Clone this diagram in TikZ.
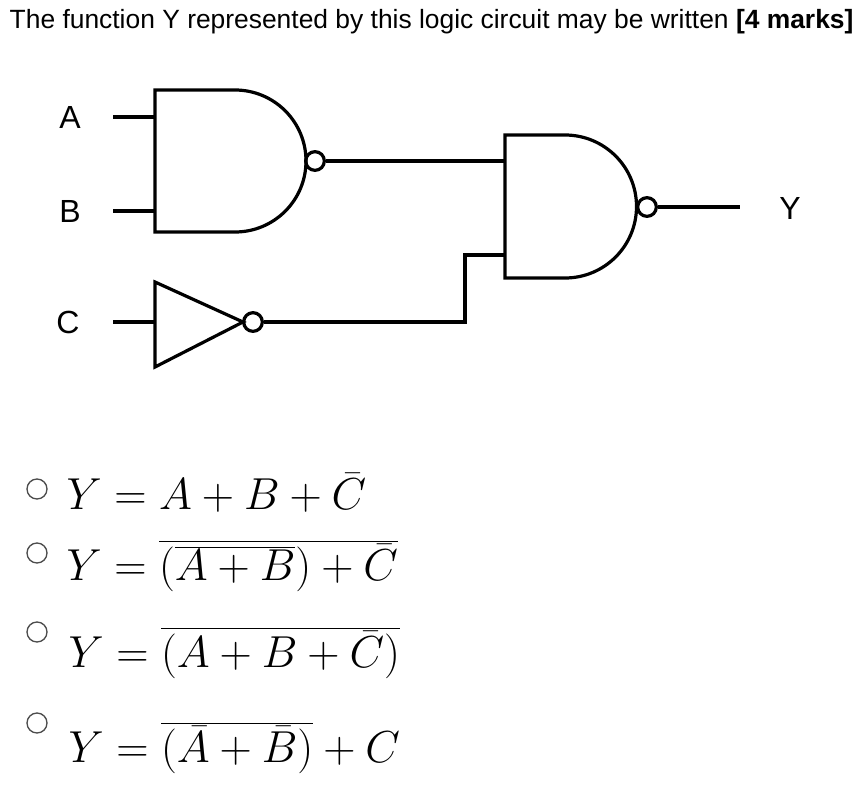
\documentclass[tikz,border=0pt]{standalone}
\usepackage{fontspec}
\usepackage{graphicx}
\setsansfont{Liberation Sans}
\newcommand{\bigeq}[1]{\scalebox{1.35}{$#1$}}
\begin{document}
\begin{tikzpicture}[x=0.75pt,y=-0.75pt,
  wire/.style={line width=2.4pt},
  bub/.style={circle,draw,line width=2.4pt,minimum size=14pt,inner sep=0pt},
  lbl/.style={font=\sffamily\fontsize{24}{28}\selectfont},
  opt/.style={circle,draw=black!70,line width=1pt,minimum size=15pt,inner sep=0pt},
  eq/.style={anchor=west,font=\fontsize{24.88}{30}\selectfont}]
\useasboundingbox (0,0) rectangle (866,793);
\node[anchor=west,font=\sffamily\fontsize{19.8}{22}\selectfont] (title) at (5,22) {The function Y represented by this logic circuit may be written \textbf{[4 marks]}};
% gate 1
\draw[wire] (235,90) -- (155,90) -- (155,232) -- (235,232) arc[start angle=90,end angle=-90,radius=71];
\node[bub] (b1) at (315,161) {};
\coordinate (a1) at (155,117); \coordinate (bb1) at (155,211);
\coordinate (ai) at (113,117); \coordinate (bi) at (113,211);
\draw[wire] (ai) -- (a1); \draw[wire] (bi) -- (bb1);
\node[lbl] (A) at (70,117) {A};
\node[lbl] (B) at (70,211) {B};
% gate 2
\draw[wire] (565,135) -- (505,135) -- (505,278) -- (565,278) arc[start angle=90,end angle=-90,radius=71.5];
\node[bub] (b2) at (647,207) {};
\coordinate (g2a) at (505,161); \coordinate (g2b) at (505,255);
\draw[wire] (b1.east) -- (g2a);
\coordinate (yo) at (740,207);
\draw[wire] (b2.east) -- (yo);
\node[lbl] (Y) at (790,208) {Y};
% not gate
\draw[wire] (155,282) -- (155,367) -- (243,322) -- cycle;
\node[bub] (b3) at (253,322) {};
\coordinate (ci) at (113,322); \coordinate (cg) at (155,322);
\draw[wire] (ci) -- (cg);
\node[lbl] (C) at (68,322) {C};
\coordinate (k1) at (465,322); \coordinate (k2) at (465,255);
\draw[wire] (b3.east) -- (k1) -- (k2) -- (g2b);
% options
\node[opt] (o1) at (37,489) {};
\node[opt] (o2) at (37,553) {};
\node[opt] (o3) at (37,632) {};
\node[opt] (o4) at (37,723) {};
\node[eq] (e1) at (62,493) {\bigeq{Y=A+B+\bar{C}}};
\node[eq] (e2) at (62,566) {\bigeq{Y=\overline{(\overline{A+B})+\bar{C}}}};
\node[eq] (e3) at (64,653) {\bigeq{Y=\overline{(A+B+\bar{C})}}};
\node[eq] (e4) at (64,748) {\bigeq{Y=\overline{(\bar{A}+\bar{B})}+C}};
\end{tikzpicture}
\end{document}
